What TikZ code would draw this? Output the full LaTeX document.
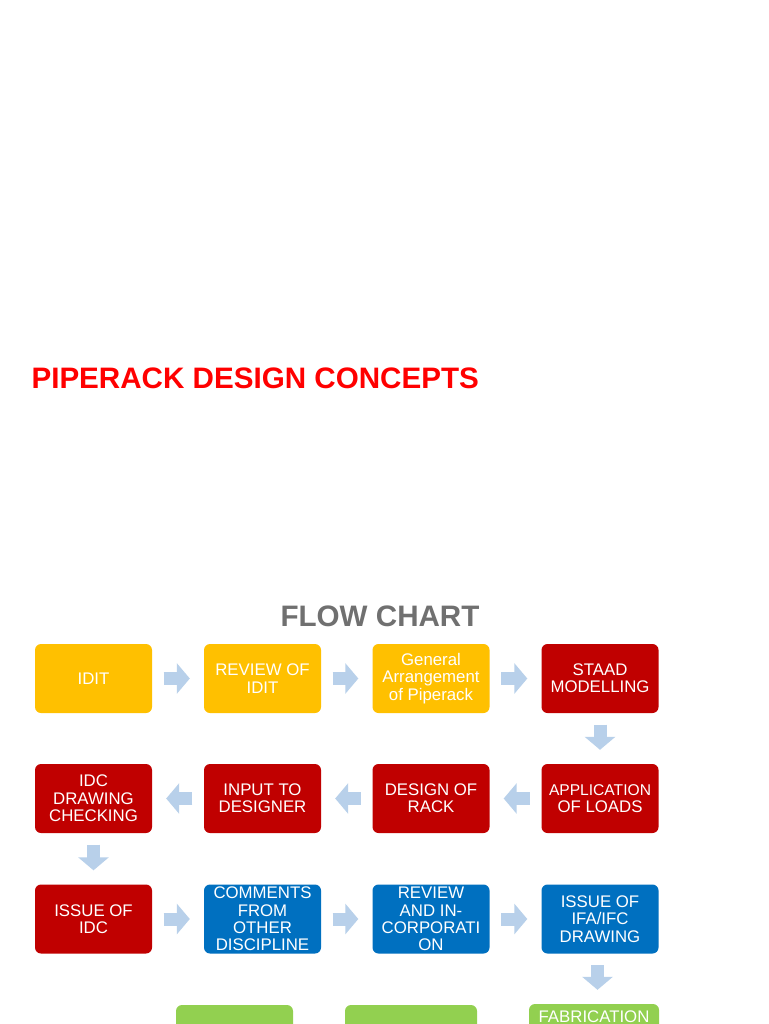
\documentclass[tikz,border=0pt]{standalone}
\usepackage{fontspec}
\setmainfont{Liberation Sans}
\usetikzlibrary{arrows.meta,calc}
\definecolor{yel}{RGB}{255,192,0}
\definecolor{redb}{RGB}{192,0,0}
\definecolor{blu}{RGB}{0,112,192}
\definecolor{grn}{RGB}{146,208,80}
\definecolor{arr}{RGB}{184,208,234}
\definecolor{gry}{RGB}{112,112,112}
\definecolor{titred}{RGB}{255,0,0}
\begin{document}
\begin{tikzpicture}[x=1pt,y=-1pt,
  box/.style={rounded corners=6pt, minimum width=117pt, minimum height=69pt,
    inner sep=1pt, align=center, text=white,
    font=\fontsize{16.8}{17.3}\selectfont},
  ybox/.style={box, fill=yel},
  rbox/.style={box, fill=redb},
  bbox/.style={box, fill=blu},
  gbox/.style={box, fill=grn},
  flowarrow/.style={line width=13pt, draw=arr,
    -{Triangle[length=13pt,width=30pt,fill=arr]},
    shorten <=11.5pt, shorten >=14pt},
  ttl/.style={anchor=base west, font=\bfseries\fontsize{29.6}{32}\selectfont}]
\useasboundingbox (0,0) rectangle (768,1024);
\clip (0,0) rectangle (768,1024);
\fill[white] (0,0) rectangle (768,1024);

\node[ttl, text=titred] (title) at (28,388) {PIPERACK DESIGN CONCEPTS};
\node[ttl, text=gry] (flowtitle) at (277,626) {FLOW CHART};

% row 1
\node[ybox] (idit) at (93.5,678.5) {IDIT};
\node[ybox] (review) at (262.5,678.5) {REVIEW OF\\IDIT};
\node[ybox] (ga) at (431,678.5) {General\\Arrangement\\of Piperack};
\node[rbox] (staad) at (600,678.5) {STAAD\\MODELLING};
% row 2
\node[rbox] (loads) at (600,798.5) {\fontsize{15.6}{17.3}\selectfont APPLICATION\\OF LOADS};
\node[rbox] (rack) at (431,798.5) {DESIGN OF\\RACK};
\node[rbox] (input) at (262.5,798.5) {INPUT TO\\DESIGNER};
\node[rbox] (check) at (93.5,798.5) {IDC\\DRAWING\\CHECKING};
% row 3
\node[rbox] (idc) at (93.5,919) {ISSUE OF\\IDC};
\node[bbox] (comments) at (262.5,919) {COMMENTS\\FROM\\OTHER\\DISCIPLINE};
\node[bbox] (incorp) at (431,919) {REVIEW\\AND IN-\\CORPORATI\\ON};
\node[bbox] (ifa) at (600,919) {ISSUE OF\\IFA/IFC\\DRAWING};
% row 4
\node[gbox] (g1) at (234.5,1039.5) {};
\node[gbox, minimum width=132pt] (g2) at (411,1039.5) {};
\node[gbox, minimum width=130pt] (g3) at (594,1038.5) {};
\node[text=white, anchor=base, font=\fontsize{16.8}{17.3}\selectfont] (fab) at ($(g3.north)+(0,18.5)$) {FABRICATION};

% arrows
\coordinate (ifadown) at ($(ifa.south)+(-2.5,0)$);
\coordinate (g3top) at (ifadown |- g3.north);
\draw[flowarrow] (idit.east) -- (review.west);
\draw[flowarrow] (review.east) -- (ga.west);
\draw[flowarrow] (ga.east) -- (staad.west);
\draw[flowarrow] (staad.south) -- (loads.north);
\draw[flowarrow] (loads.west) -- (rack.east);
\draw[flowarrow] (rack.west) -- (input.east);
\draw[flowarrow] (input.west) -- (check.east);
\draw[flowarrow] (check.south) -- (idc.north);
\draw[flowarrow] (idc.east) -- (comments.west);
\draw[flowarrow] (comments.east) -- (incorp.west);
\draw[flowarrow] (incorp.east) -- (ifa.west);
\draw[flowarrow] (ifadown) -- (g3top);
\end{tikzpicture}
\end{document}
